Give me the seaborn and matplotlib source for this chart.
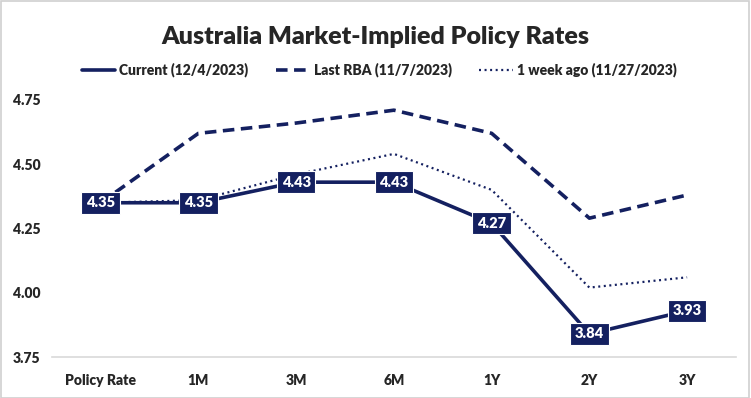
import numpy as np
import pandas as pd
import matplotlib.pyplot as plt
import seaborn as sns

tenors = ["Policy Rate", "1M", "3M", "6M", "1Y", "2Y", "3Y"]
current = [4.35, 4.35, 4.43, 4.43, 4.27, 3.84, 3.93]
last_rba = [4.35, 4.62, 4.66, 4.71, 4.62, 4.29, 4.38]
week_ago = [4.35, 4.36, 4.46, 4.54, 4.40, 4.02, 4.06]
y_ticks = [3.75, 4.00, 4.25, 4.50, 4.75]

navy = "#142060"

sns.set_style("white")
plt.rcParams["font.family"] = ["Lato", "DejaVu Sans"]

df = pd.DataFrame({"tenor": tenors, "x": np.arange(len(tenors)),
                   "Current (12/4/2023)": current,
                   "Last RBA (11/7/2023)": last_rba,
                   "1 week ago (11/27/2023)": week_ago})

fig = plt.figure(figsize=(7.51, 3.98), dpi=100)
ax = fig.add_axes([0.069, 0.103, 0.911, 0.646])

sns.lineplot(data=df, x="x", y="Last RBA (11/7/2023)", ax=ax, color=navy,
             linewidth=2.6, label="Last RBA (11/7/2023)")
ax.lines[-1].set_dashes([3.2, 1.8])
sns.lineplot(data=df, x="x", y="1 week ago (11/27/2023)", ax=ax, color=navy,
             linewidth=1.6, label="1 week ago (11/27/2023)")
ax.lines[-1].set_dashes([0.9, 1.6])
sns.lineplot(data=df, x="x", y="Current (12/4/2023)", ax=ax, color=navy,
             linewidth=2.6, label="Current (12/4/2023)")

# data labels for current
for xi, v in zip(df["x"], current):
    ax.text(xi, v, f"{v:.2f}", ha="center", va="center", color="white",
            fontsize=10.5, fontweight="heavy", zorder=5,
            bbox=dict(boxstyle="square,pad=0.32", fc=navy, ec="white", lw=0.8))

ax.set_xlim(-0.5, 6.5)
ax.set_ylim(3.75, 4.75)
ax.set_yticks(y_ticks)
ax.set_yticklabels([f"{t:.2f}" for t in y_ticks], fontsize=10, fontweight="heavy")
ax.set_xticks(df["x"])
ax.set_xticklabels(tenors, fontsize=10, fontweight="heavy")
ax.tick_params(axis="both", length=0, pad=12)
ax.tick_params(axis="y", pad=8)
ax.set_xlabel("")
ax.set_ylabel("")
for s in ["top", "right", "left"]:
    ax.spines[s].set_visible(False)
ax.spines["bottom"].set_color("#d9d9d9")
ax.spines["bottom"].set_linewidth(1.2)

handles, labels = ax.get_legend_handles_labels()
order = [2, 0, 1]
ax.legend([handles[i] for i in order], [labels[i] for i in order],
          loc="center", bbox_to_anchor=(0.505, 0.824), bbox_transform=fig.transFigure,
          ncol=3, frameon=False, prop={"weight": "heavy", "size": 10},
          handlelength=2.4, columnspacing=2.0, handletextpad=0.3)

fig.suptitle("Australia Market-Implied Policy Rates", y=0.935, fontsize=18,
             fontweight="heavy")

fig.patches.append(plt.Rectangle((0.001, 0.001), 0.997, 0.997, transform=fig.transFigure,
                                 fill=False, ec="#d0d0d0", lw=1.2))

plt.savefig("out.png", dpi=100)
